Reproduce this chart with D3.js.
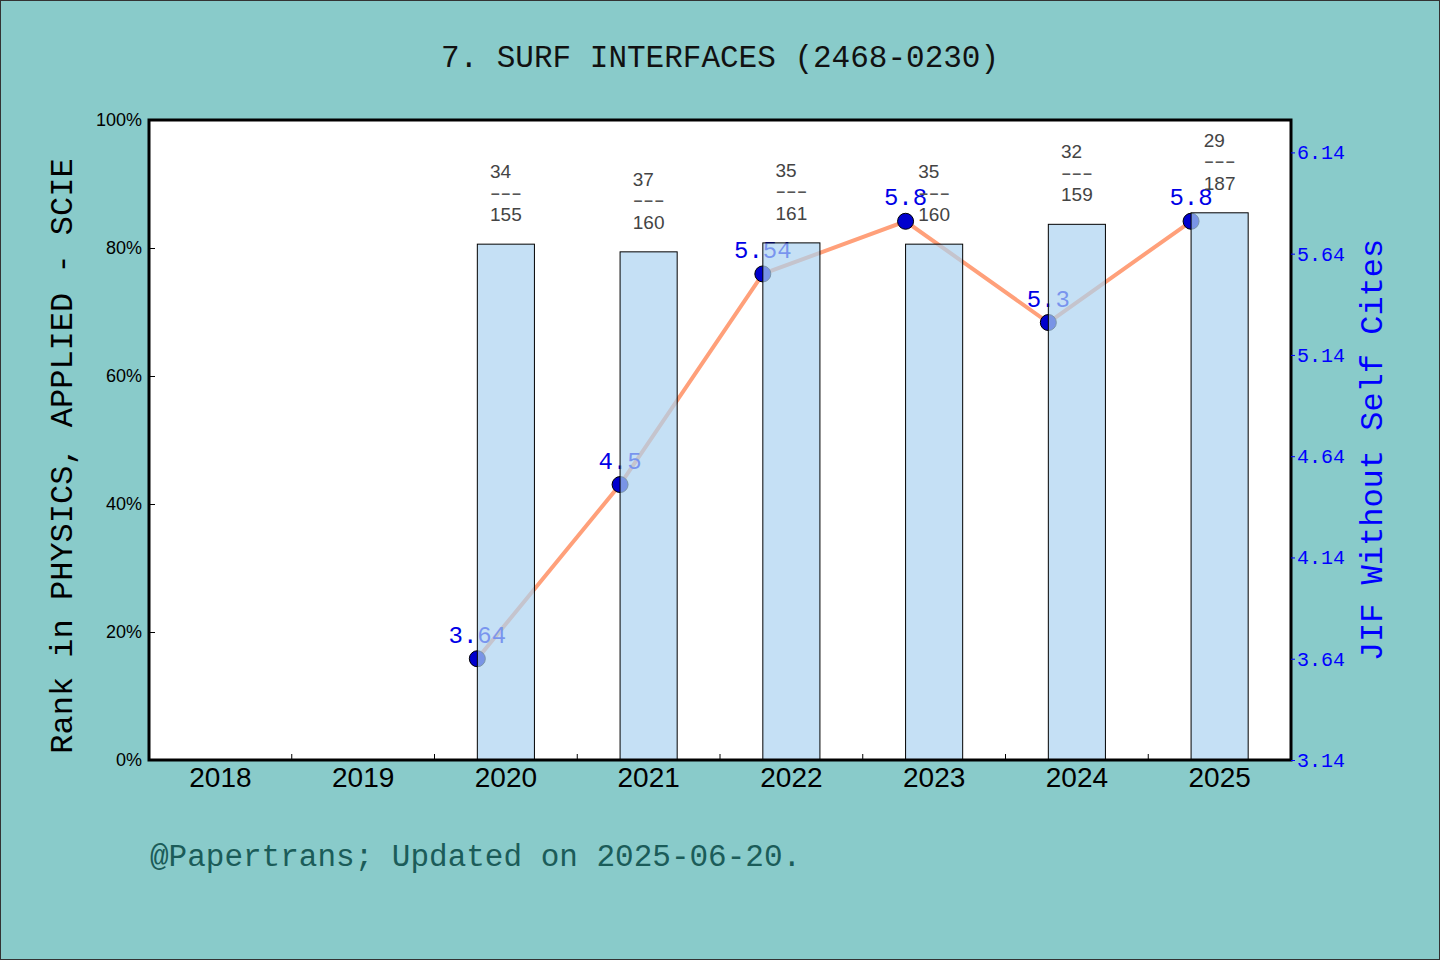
<!DOCTYPE html>
<html>
<head>
<meta charset="utf-8">
<script src="https://cdn.jsdelivr.net/npm/d3@7"></script>
<style>
  body { margin: 0; background: #89cbca; }
  svg { display: block; }
</style>
</head>
<body>
<div id="chart"></div>
<script>
// chart data
const years = ["2018", "2019", "2020", "2021", "2022", "2023", "2024", "2025"];
const rankYears = ["2020", "2021", "2022", "2023", "2024", "2025"];
const rankPct = [80.6, 79.4, 80.8, 80.6, 83.7, 85.5];
const rankNum = [34, 37, 35, 35, 32, 29];
const rankTotal = [155, 160, 161, 160, 159, 187];
const jifNoSelf = [3.64, 4.5, 5.54, 5.8, 5.3, 5.8];
const pctTicks = [0, 20, 40, 60, 80, 100];

const titleText = "7. SURF INTERFACES (2468-0230)";
const leftLabel = "Rank in PHYSICS, APPLIED - SCIE";
const rightLabel = "JIF Without Self Cites";
const footerText = "@Papertrans; Updated on 2025-06-20.";

const W = 1440, H = 960;
const margin = {top: 120, right: 149, bottom: 200, left: 149};
const plotR = 1291;
const mono = "'Liberation Mono', 'DejaVu Sans Mono', monospace";
const sans = "'Liberation Sans', Arial, sans-serif";

const svg = d3.select("#chart").append("svg")
    .attr("width", W)
    .attr("height", H);

// page background with thin edge
svg.append("rect")
    .attr("x", 0.5).attr("y", 0.5)
    .attr("width", W - 1).attr("height", H - 1)
    .attr("fill", "#89cbca")
    .attr("stroke", "#333")
    .attr("stroke-width", 1);

const x = d3.scaleBand()
    .domain(years)
    .range([margin.left, plotR])
    .padding(0);

const y = d3.scaleLinear()
    .domain([0, 100])
    .range([760, margin.top]);

const jMin = d3.min(jifNoSelf) - 0.5;
const jMax = d3.max(jifNoSelf) + 0.5;
const y2 = d3.scaleLinear()
    .domain([jMin, jMax])
    .range([760, margin.top]);

const bw = x.bandwidth();

// plot background
svg.append("rect")
    .attr("x", margin.left)
    .attr("y", margin.top)
    .attr("width", plotR - margin.left)
    .attr("height", 760 - margin.top)
    .attr("fill", "#fff");

// JIF line + points + labels (bars are drawn over them, semi transparent)
const pts = rankYears.map((yr, i) => ({yr, v: jifNoSelf[i]}));

svg.append("path")
    .datum(pts)
    .attr("fill", "none")
    .attr("stroke", "#ffa07a")
    .attr("stroke-width", 4)
    .attr("d", d3.line()
        .x(d => x(d.yr) + bw * 0.3)
        .y(d => y2(d.v)));

svg.selectAll(".dot")
    .data(pts)
    .enter().append("circle")
    .attr("class", "dot")
    .attr("cx", d => x(d.yr) + bw * 0.3)
    .attr("cy", d => y2(d.v))
    .attr("r", 8)
    .attr("fill", "#0000cd")
    .attr("stroke", "#000")
    .attr("stroke-width", 1);

svg.selectAll(".dot-label")
    .data(pts)
    .enter().append("text")
    .attr("class", "dot-label")
    .attr("x", d => x(d.yr) + bw * 0.3)
    .attr("y", d => y2(d.v) - 16)
    .attr("text-anchor", "middle")
    .attr("font-family", mono)
    .attr("font-size", "24px")
    .attr("fill", "#0000e6")
    .text(d => String(d.v));

// rank bars
const bars = rankYears.map((yr, i) => ({yr, p: rankPct[i], n: rankNum[i], t: rankTotal[i]}));

svg.selectAll(".bar")
    .data(bars)
    .enter().append("rect")
    .attr("class", "bar")
    .attr("x", d => x(d.yr) + bw * 0.3)
    .attr("y", d => y(d.p))
    .attr("width", bw * 0.4)
    .attr("height", d => y(0) - y(d.p))
    .attr("fill", "rgb(172,211,241)")
    .attr("fill-opacity", 0.7)
    .attr("stroke", "#000")
    .attr("stroke-width", 1);

// rank labels: n / --- / total, block centered over bar, lines left aligned
bars.forEach(d => {
    const cx = x(d.yr) + bw / 2;
    const base = y(d.p) - 23;
    const g = svg.append("g");
    const top = g.append("text")
        .attr("y", base - 43)
        .attr("font-family", sans)
        .attr("font-size", "19px")
        .attr("fill", "#444")
        .text(d.n);
    const dash = g.append("text")
        .attr("y", base - 21.5)
        .attr("font-family", sans)
        .attr("font-size", "20px")
        .attr("fill", "#555")
        .text("---");
    const bot = g.append("text")
        .attr("y", base)
        .attr("font-family", sans)
        .attr("font-size", "19px")
        .attr("fill", "#444")
        .text(d.t);
    const wBot = bot.node().getComputedTextLength();
    const wTop = top.node().getComputedTextLength();
    const w = Math.max(wBot, wTop);
    dash.attr("textLength", w).attr("lengthAdjust", "spacingAndGlyphs");
    g.selectAll("text").attr("x", cx - w / 2);
});

// frame
svg.append("rect")
    .attr("x", margin.left)
    .attr("y", margin.top)
    .attr("width", plotR - margin.left)
    .attr("height", 760 - margin.top)
    .attr("fill", "none")
    .attr("stroke", "#000")
    .attr("stroke-width", 3);

// left axis
const axL = svg.append("g")
    .attr("transform", `translate(${margin.left},0)`)
    .call(d3.axisLeft(y).tickValues(pctTicks).tickSize(-6).tickPadding(7).tickFormat(d => d + "%"));
axL.select(".domain").remove();
axL.selectAll("text")
    .attr("font-family", sans)
    .attr("font-size", "18px")
    .attr("fill", "#000");

// right axis
const axR = svg.append("g")
    .attr("transform", `translate(${plotR},0)`)
    .call(d3.axisRight(y2).tickValues(d3.range(jMin, jMax, 0.5)).tickSize(4).tickPadding(2).tickFormat(d3.format(".2f")));
axR.select(".domain").remove();
axR.selectAll("line").attr("stroke", "#0000ff");
axR.selectAll("text")
    .attr("font-family", mono)
    .attr("font-size", "20px")
    .attr("fill", "#0000ff");

// bottom axis: labels at band centers, small inward ticks at band edges
const axB = svg.append("g")
    .attr("transform", "translate(0,760)")
    .call(d3.axisBottom(x).tickSize(0).tickPadding(7));
axB.select(".domain").remove();
axB.selectAll("text")
    .attr("font-family", sans)
    .attr("font-size", "28px")
    .attr("fill", "#000");

svg.selectAll(".xedge")
    .data(years.slice(1))
    .enter().append("line")
    .attr("class", "xedge")
    .attr("x1", d => x(d))
    .attr("x2", d => x(d))
    .attr("y1", 760)
    .attr("y2", 754)
    .attr("stroke", "#000")
    .attr("stroke-width", 1);

// titles
svg.append("text")
    .attr("x", 720)
    .attr("y", 67)
    .attr("text-anchor", "middle")
    .attr("font-family", mono)
    .attr("font-size", "31px")
    .attr("fill", "#111")
    .text(titleText);

svg.append("text")
    .attr("transform", "translate(63,456) rotate(-90)")
    .attr("text-anchor", "middle")
    .attr("dominant-baseline", "central")
    .attr("font-family", mono)
    .attr("font-size", "32px")
    .attr("fill", "#000")
    .text(leftLabel);

svg.append("text")
    .attr("transform", "translate(1373,450) rotate(-90)")
    .attr("text-anchor", "middle")
    .attr("dominant-baseline", "central")
    .attr("font-family", mono)
    .attr("font-size", "32px")
    .attr("fill", "#0000ff")
    .text(rightLabel);

svg.append("text")
    .attr("x", 150)
    .attr("y", 866)
    .attr("font-family", mono)
    .attr("font-size", "31px")
    .attr("fill", "#1b5c59")
    .text(footerText);
</script>
</body>
</html>
